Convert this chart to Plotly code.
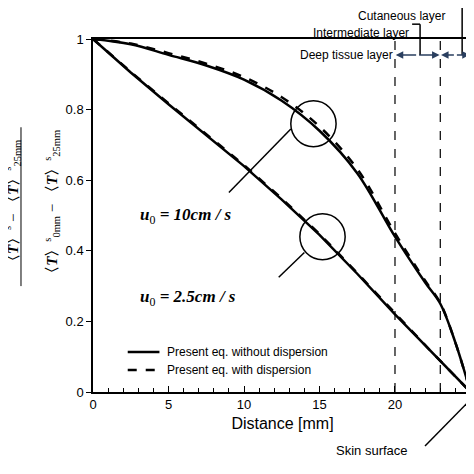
import plotly.graph_objects as go

x_pts = [0, 2.5, 5, 7.5, 10, 12.5, 15, 17.5, 20, 22, 23, 24, 25]
u10_nodisp = [1, 0.985, 0.955, 0.925, 0.885, 0.825, 0.74, 0.62, 0.44, 0.31, 0.25, 0.14, 0]
u10_disp = [1, 0.987, 0.96, 0.93, 0.892, 0.835, 0.752, 0.632, 0.45, 0.315, 0.252, 0.14, 0]
x_low = [0, 2.5, 5, 7.5, 10, 12.5, 15, 17.5, 20, 22.5, 25]
u25_nodisp = [1, 0.905, 0.815, 0.728, 0.64, 0.545, 0.445, 0.335, 0.22, 0.11, 0]
u25_disp = [1, 0.907, 0.818, 0.731, 0.643, 0.548, 0.448, 0.337, 0.222, 0.11, 0]
layer_bounds = [20, 23]

F = "Liberation Sans"
fig = go.Figure()
fig.add_trace(go.Scatter(x=x_pts, y=u10_nodisp, mode="lines", line=dict(color="black", width=2.5), line_shape="spline", showlegend=False))
fig.add_trace(go.Scatter(x=x_pts, y=u10_disp, mode="lines", line=dict(color="black", width=2.5, dash="dash"), line_shape="spline", showlegend=False))
fig.add_trace(go.Scatter(x=x_low, y=u25_nodisp, mode="lines", line=dict(color="black", width=2.5), showlegend=False))
fig.add_trace(go.Scatter(x=x_low, y=u25_disp, mode="lines", line=dict(color="black", width=2.5, dash="dash"), showlegend=False))

def pline(x0, y0, x1, y1, w=1.5):
    return dict(type="line", xref="paper", yref="paper", x0=x0, y0=y0, x1=x1, y1=y1, line=dict(color="black", width=w))

shapes = []
for b in layer_bounds:
    shapes.append(dict(type="line", x0=b, x1=b, y0=0, y1=1, line=dict(color="black", width=1.2, dash="dash")))
shapes.append(dict(type="circle", x0=13.1, x1=16.1, y0=0.695, y1=0.825, line=dict(color="black", width=1.5)))
shapes.append(dict(type="circle", x0=13.7, x1=16.7, y0=0.375, y1=0.505, line=dict(color="black", width=1.5)))
shapes.append(dict(type="line", x0=13.1, y0=0.745, x1=9.0, y1=0.565, line=dict(color="black", width=1.5)))
shapes.append(dict(type="line", x0=14.0, y0=0.395, x1=12.3, y1=0.325, line=dict(color="black", width=1.5)))
shapes.append(dict(type="line", x0=2.3, x1=4.4, y0=0.113, y1=0.113, line=dict(color="black", width=2.5)))
shapes.append(dict(type="line", x0=2.3, x1=4.4, y0=0.062, y1=0.062, line=dict(color="black", width=2.5, dash="dash")))
# brackets for layer names (paper coords)
shapes += [pline(0.842, 1.042, 0.863, 1.042), pline(0.863, 1.042, 0.863, 0.955),
           pline(0.939, 1.09, 0.974, 1.09), pline(0.974, 1.09, 0.974, 0.955)]
shapes.append(pline(0.876, -0.153, 0.995, -0.023))
shapes.append(pline(-0.19, 0.3, -0.19, 0.75, 1))

annotations = []
for x0, x1 in [(20, 23), (23, 25)]:
    for a, b in [(x0, x1), (x1, x0)]:
        annotations.append(dict(x=a + (0.05 if a < b else -0.05), y=0.955, ax=(a + b) / 2, ay=0.955, axref="x", ayref="y",
                                xref="x", yref="y", showarrow=True, arrowhead=2, arrowsize=1, arrowwidth=1.5, text=""))
annotations += [
    dict(x=16.8, y=0.955, text="Deep tissue layer", showarrow=False, font=dict(size=12, family=F)),
    dict(xref="paper", yref="paper", x=0.838, y=1.042, text="Intermediate layer", showarrow=False, xanchor="right", font=dict(size=12, family=F)),
    dict(xref="paper", yref="paper", x=0.935, y=1.09, text="Cutaneous layer", showarrow=False, xanchor="right", font=dict(size=12, family=F)),
    dict(x=3.0, y=0.5, text="<b><i>u</i></b><sub>0</sub><b><i> = 10cm / s</i></b>", showarrow=False, xanchor="left",
         font=dict(size=17, family="Liberation Serif")),
    dict(x=3.0, y=0.265, text="<b><i>u</i></b><sub>0</sub><b><i> = 2.5cm / s</i></b>", showarrow=False, xanchor="left",
         font=dict(size=17, family="Liberation Serif")),
    dict(x=4.8, y=0.113, text="Present eq. without dispersion", showarrow=False, xanchor="left", font=dict(size=12, family=F)),
    dict(x=4.8, y=0.062, text="Present eq. with dispersion", showarrow=False, xanchor="left", font=dict(size=12, family=F)),
    dict(xref="paper", yref="paper", x=0.836, y=-0.193, text="Skin surface", showarrow=False, font=dict(size=13, family=F)),
    dict(xref="paper", yref="paper", x=-0.245, y=0.53, textangle=-90, showarrow=False,
         text="<b>〈<i>T</i>〉</b><sup>s</sup> − <b>〈<i>T</i>〉</b><sup>s</sup><sub>25mm</sub>", font=dict(size=15, family="Liberation Serif")),
    dict(xref="paper", yref="paper", x=-0.14, y=0.53, textangle=-90, showarrow=False,
         text="<b>〈<i>T</i>〉</b><sup>s</sup><sub>0mm</sub> − <b>〈<i>T</i>〉</b><sup>s</sup><sub>25mm</sub>", font=dict(size=15, family="Liberation Serif")),
]

fig.update_layout(
    width=466, height=466, margin=dict(l=85, r=0, t=31, b=82),
    font=dict(color="black", family=F),
    plot_bgcolor="white", paper_bgcolor="white", shapes=shapes, annotations=annotations,
    xaxis=dict(range=[0, 25.1], tickvals=[0, 5, 10, 15, 20, 25], ticks="inside", ticklen=6, tickcolor="black",
               minor=dict(dtick=1, ticks="inside", ticklen=4, tickcolor="black"),
               showline=True, linecolor="black", linewidth=1.5, mirror=True, showgrid=False, zeroline=False,
               title=dict(text="Distance [mm]", font=dict(size=16, family=F), standoff=6),
               tickfont=dict(size=13, family=F)),
    yaxis=dict(range=[0, 1], tickvals=[0, 0.2, 0.4, 0.6, 0.8, 1], ticktext=["0", "0.2", "0.4", "0.6", "0.8", "1"],
               ticks="outside", ticklen=5, tickcolor="black", showline=True, linecolor="black", linewidth=1.5, mirror=True,
               showgrid=False, zeroline=False, tickfont=dict(size=13, family=F)),
)
fig.write_html("out.html")
